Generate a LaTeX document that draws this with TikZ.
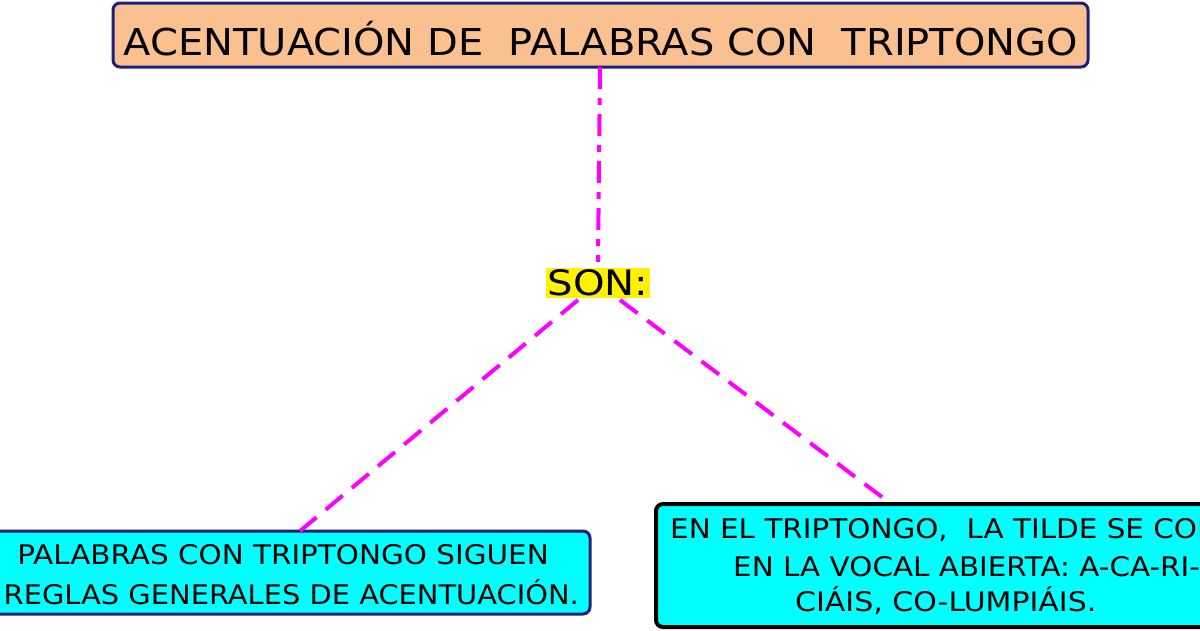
\documentclass[tikz,border=0pt]{standalone}
\usepackage{fontspec}
\setmainfont{DejaVu Sans}
\definecolor{peach}{HTML}{FAC090}
\definecolor{navy}{HTML}{1F1F7A}
\definecolor{cyanbox}{HTML}{00FFFF}
\definecolor{mag}{HTML}{FF00FF}
\newcommand{\wide}[2]{\scalebox{#1}[1]{#2}}
\tikzset{
 boxtext/.style={inner sep=0pt,font=\fontsize{27}{30}\selectfont},
 conn/.style={draw=mag,line width=4pt}
}
\begin{document}
\begin{tikzpicture}[x=1pt,y=-1pt]
\clip (0,0) rectangle (1200,630);
\useasboundingbox (0,0) rectangle (1200,630);
\fill[white] (0,0) rectangle (1200,630);
\draw[draw=navy,fill=peach,line width=3pt,rounded corners=7pt] (113,3) rectangle (1088,67);
\node[inner sep=0pt,font=\fontsize{37}{40}\selectfont] (title) at (601,39) {\wide{1.08}{ACENTUACIÓN DE\ \ PALABRAS CON\ \ TRIPTONGO}};
\coordinate (tb) at (600,67);
\node[fill=yellow,inner sep=1.5pt,font=\fontsize{35}{38}\selectfont] (son) at (598,283) {\wide{1.15}{SON:}};
\draw[conn,dash pattern=on 22pt off 9pt on 7pt off 9pt] (tb) -- (598,262);
\draw[draw=navy,fill=cyanbox,line width=3pt,rounded corners=7pt] (-10,531) rectangle (590,614);
\draw[draw=black,fill=cyanbox,line width=4pt,rounded corners=7pt] (656,504) rectangle (1260,627);
\coordinate (l) at (300,531);
\coordinate (r) at (882,497);
\draw[conn,dash pattern=on 22pt off 12pt] (578,300) -- (l);
\draw[conn,dash pattern=on 22pt off 12pt] (620,300) -- (r);
\node[boxtext,anchor=east] (l1) at (549,555) {\wide{1.09}{PALABRAS CON TRIPTONGO SIGUEN}};
\node[boxtext,anchor=east] (l2) at (579,592) {\wide{1.07}{REGLAS GENERALES DE ACENTUACIÓN.}};
\node[boxtext,anchor=west] (r1) at (670,530) {\wide{1.09}{EN EL TRIPTONGO,\ \ LA TILDE SE COLOCA}};
\node[boxtext,anchor=west] (r2) at (733,567) {\wide{1.09}{EN LA VOCAL ABIERTA: A-CA-RI-}};
\node[boxtext,anchor=west] (r3) at (795,601) {\wide{1.11}{CIÁIS, CO-LUMPIÁIS.}};
\end{tikzpicture}
\end{document}
